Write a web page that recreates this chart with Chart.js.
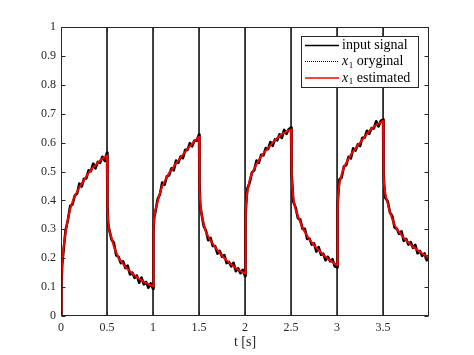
<!DOCTYPE html>
<html><head><meta charset="utf-8">
<script src="https://cdn.jsdelivr.net/npm/chart.js@4.4.0/dist/chart.umd.min.js"></script>
<style>html,body{margin:0;padding:0;background:#fff}#wrap{width:474px;height:355px}</style>
</head><body><div id="wrap"><canvas id="c" width="474" height="355"></canvas></div>
<script>
const t = [
0,0.005,0.012,0.025,0.05,0.075,0.1,0.125,0.15,0.175,0.2,0.225,0.25,0.275,0.3,0.325,0.35,0.375,0.4,0.425,0.45,0.475,
0.5,0.505,0.512,0.525,0.55,0.575,0.6,0.625,0.65,0.675,0.7,0.725,0.75,0.775,0.8,0.825,0.85,0.875,0.9,0.925,0.95,0.975,
1,1.005,1.012,1.025,1.05,1.075,1.1,1.125,1.15,1.175,1.2,1.225,1.25,1.275,1.3,1.325,1.35,1.375,1.4,1.425,1.45,1.475,
1.5,1.505,1.512,1.525,1.55,1.575,1.6,1.625,1.65,1.675,1.7,1.725,1.75,1.775,1.8,1.825,1.85,1.875,1.9,1.925,1.95,1.975,
2,2.005,2.012,2.025,2.05,2.075,2.1,2.125,2.15,2.175,2.2,2.225,2.25,2.275,2.3,2.325,2.35,2.375,2.4,2.425,2.45,2.475,
2.5,2.505,2.512,2.525,2.55,2.575,2.6,2.625,2.65,2.675,2.7,2.725,2.75,2.775,2.8,2.825,2.85,2.875,2.9,2.925,2.95,2.975,
3,3.005,3.012,3.025,3.05,3.075,3.1,3.125,3.15,3.175,3.2,3.225,3.25,3.275,3.3,3.325,3.35,3.375,3.4,3.425,3.45,3.475,
3.5,3.505,3.512,3.525,3.55,3.575,3.6,3.625,3.65,3.675,3.7,3.725,3.75,3.775,3.8,3.825,3.85,3.875,3.9,3.925,3.95,3.975,3.99];

const x1Estimated = [
0,0.12,0.17,0.23,0.29,0.335,0.37,0.395,0.415,0.43,0.445,0.458,0.47,0.483,0.495,0.505,0.515,0.522,0.53,0.538,0.545,0.55,
0.555,0.37,0.33,0.295,0.27,0.24,0.22,0.2,0.19,0.18,0.17,0.162,0.155,0.147,0.14,0.134,0.128,0.123,0.118,0.114,0.11,0.106,
0.103,0.3,0.335,0.365,0.395,0.425,0.45,0.465,0.48,0.495,0.505,0.517,0.528,0.538,0.548,0.558,0.568,0.578,0.587,0.596,0.605,0.613,
0.62,0.45,0.4,0.355,0.32,0.29,0.275,0.26,0.25,0.238,0.228,0.218,0.208,0.2,0.192,0.185,0.178,0.171,0.165,0.16,0.155,0.151,
0.147,0.34,0.39,0.43,0.47,0.495,0.51,0.525,0.54,0.553,0.563,0.572,0.581,0.59,0.6,0.608,0.616,0.623,0.629,0.634,0.638,0.642,
0.645,0.5,0.45,0.405,0.37,0.345,0.325,0.305,0.29,0.278,0.265,0.255,0.245,0.236,0.228,0.22,0.212,0.205,0.198,0.192,0.186,0.181,
0.176,0.37,0.42,0.46,0.49,0.515,0.53,0.545,0.558,0.57,0.58,0.59,0.6,0.61,0.62,0.63,0.64,0.648,0.655,0.661,0.666,0.67,
0.675,0.5,0.45,0.42,0.39,0.36,0.335,0.315,0.3,0.29,0.28,0.27,0.262,0.254,0.247,0.24,0.234,0.228,0.222,0.216,0.211,0.206,0.203];

const x1Original = [
0,0.112,0.174,0.218,0.297,0.332,0.381,0.386,0.417,0.424,0.458,0.448,0.475,0.476,0.504,0.501,0.527,0.511,0.533,0.53,0.551,0.537,
0.565,0.381,0.321,0.297,0.264,0.253,0.21,0.205,0.183,0.189,0.166,0.174,0.144,0.15,0.132,0.14,0.115,0.133,0.11,0.118,0.098,0.113,
0.094,0.29,0.34,0.358,0.404,0.421,0.462,0.454,0.483,0.487,0.511,0.504,0.538,0.53,0.552,0.546,0.575,0.575,0.598,0.587,0.607,0.607,
0.628,0.462,0.389,0.358,0.312,0.296,0.262,0.27,0.242,0.242,0.216,0.225,0.205,0.211,0.183,0.187,0.172,0.184,0.155,0.165,0.148,0.16,
0.138,0.347,0.387,0.441,0.461,0.497,0.504,0.538,0.53,0.558,0.556,0.581,0.577,0.602,0.589,0.611,0.608,0.629,0.616,0.644,0.63,0.646,
0.652,0.494,0.463,0.395,0.375,0.338,0.334,0.301,0.302,0.267,0.268,0.247,0.251,0.223,0.238,0.212,0.216,0.193,0.205,0.189,0.197,0.172,
0.168,0.379,0.416,0.472,0.479,0.518,0.522,0.551,0.545,0.58,0.572,0.594,0.588,0.617,0.617,0.641,0.631,0.65,0.649,0.674,0.656,0.675,
0.68,0.492,0.454,0.408,0.397,0.357,0.346,0.306,0.302,0.284,0.293,0.26,0.267,0.247,0.256,0.236,0.246,0.217,0.225,0.208,0.217,0.193,0.211];

const tInput = [0,0,0.5,0.5,1,1,1.5,1.5,2,2,2.5,2.5,3,3,3.5,3.5,3.999];
const uInput = [0,1,1,0,0,1,1,0,0,1,1,0,0,1,1,0,0];

const xTicks = [0,0.5,1,1.5,2,2.5,3,3.5];
const xTickLabels = ['0','0.5','1','1.5','2','2.5','3','3.5'];
const yTicks = [0,0.1,0.2,0.3,0.4,0.5,0.6,0.7,0.8,0.9,1];
const yTickLabels = ['0','0.1','0.2','0.3','0.4','0.5','0.6','0.7','0.8','0.9','1'];
const seriesLabels = ['input signal','x\u2081 oryginal','x\u2081 estimated'];
const xTitle = 't [s]';

const FONT = '"Liberation Serif","DejaVu Serif",serif';
const AXC = '#262626';

const boxPlugin = {
  id: 'box',
  afterDatasetsDraw(chart) {
    const {ctx, chartArea: a, scales: {x, y}} = chart;
    ctx.save();
    ctx.strokeStyle = AXC; ctx.lineWidth = 1;
    const L = Math.round(a.left) + 0.5, R = Math.round(a.right) - 0.5;
    const T = Math.round(a.top) + 0.5, B = Math.round(a.bottom) - 0.5;
    ctx.strokeRect(L, T, R - L, B - T);
    const tl = 4;
    ctx.beginPath();
    xTicks.forEach(v => {
      const px = Math.round(x.getPixelForValue(v)) + 0.5;
      ctx.moveTo(px, B); ctx.lineTo(px, B - tl);
      ctx.moveTo(px, T); ctx.lineTo(px, T + tl);
    });
    yTicks.forEach(v => {
      const py = Math.round(y.getPixelForValue(v)) + 0.5;
      ctx.moveTo(L, py); ctx.lineTo(L + tl, py);
      ctx.moveTo(R, py); ctx.lineTo(R - tl, py);
    });
    ctx.stroke();
    ctx.restore();
  },
  afterDraw(chart) {
    const ctx = chart.ctx;
    ctx.save();
    const bx = 301.5, by = 36.5, bw = 117, bh = 51;
    ctx.fillStyle = '#fff';
    ctx.fillRect(bx, by, bw, bh);
    ctx.strokeStyle = AXC; ctx.lineWidth = 1;
    ctx.strokeRect(bx, by, bw, bh);
    const rows = [45.5, 61.5, 78];
    const styles = [
      {c: '#000', w: 1.5, d: []},
      {c: '#000', w: 1, d: [1, 1]},
      {c: '#ff0000', w: 1.5, d: []}
    ];
    chart.data.datasets.forEach((ds, i) => {
      const yy = rows[i];
      const s = styles[i];
      ctx.beginPath();
      ctx.setLineDash(s.d);
      ctx.strokeStyle = s.c; ctx.lineWidth = s.w;
      ctx.moveTo(305, yy); ctx.lineTo(339, yy);
      ctx.stroke();
      ctx.setLineDash([]);
      ctx.fillStyle = '#000';
      ctx.textBaseline = 'middle';
      let tx = 342;
      let label = ds.label;
      if (label.startsWith('x\u2081')) {
        ctx.font = 'italic 14px ' + FONT;
        ctx.fillText('x', tx, yy);
        tx += ctx.measureText('x').width + 0.5;
        ctx.font = '9px ' + FONT;
        ctx.fillText('1', tx, yy + 4);
        tx += ctx.measureText('1').width;
        label = label.slice(2);
      }
      ctx.font = '14px ' + FONT;
      ctx.fillText(label, tx, yy);
    });
    ctx.restore();
  }
};

new Chart(document.getElementById('c'), {
  type: 'line',
  data: {
    datasets: [
      {label: seriesLabels[0], data: tInput.map((v, i) => ({x: v, y: uInput[i]})),
       borderColor: '#000', borderWidth: 1.5, pointRadius: 0, order: 3, tension: 0},
      {label: seriesLabels[1], data: t.map((v, i) => ({x: v, y: x1Original[i]})),
       borderColor: '#000', borderWidth: 2.6, pointRadius: 0, order: 2, tension: 0, borderJoinStyle: 'round'},
      {label: seriesLabels[2], data: t.map((v, i) => ({x: v, y: x1Estimated[i]})),
       borderColor: '#ff0000', borderWidth: 2, pointRadius: 0, order: 1, tension: 0, borderJoinStyle: 'round'}
    ]
  },
  options: {
    responsive: false, animation: false, devicePixelRatio: 1,
    layout: {padding: {left: 0, top: 27, right: 45, bottom: 0}},
    plugins: {legend: {display: false}, tooltip: {enabled: false}},
    scales: {
      x: {
        type: 'linear', min: 0, max: 3.999,
        afterBuildTicks: s => { s.ticks = xTicks.map(v => ({value: v})); },
        afterFit: s => { s.height = 39; },
        grid: {display: false, drawTicks: false},
        border: {display: false},
        ticks: {padding: 5, color: AXC, font: {family: FONT, size: 12}, maxRotation: 0,
          callback: (v) => { const i = xTicks.indexOf(v); return i >= 0 ? xTickLabels[i] : ''; }},
        title: {display: true, text: xTitle, color: AXC, font: {family: FONT, size: 14}, padding: {top: 0, bottom: 4}}
      },
      y: {
        type: 'linear', min: 0, max: 1,
        afterBuildTicks: s => { s.ticks = yTicks.map(v => ({value: v})); },
        afterFit: s => { s.width = 61; },
        grid: {display: false, drawTicks: false},
        border: {display: false},
        ticks: {padding: 5, color: AXC, font: {family: FONT, size: 12},
          callback: (v) => { const i = yTicks.findIndex(k => Math.abs(k - v) < 1e-9); return i >= 0 ? yTickLabels[i] : ''; }}
      }
    }
  },
  plugins: [boxPlugin]
});
</script></body></html>
